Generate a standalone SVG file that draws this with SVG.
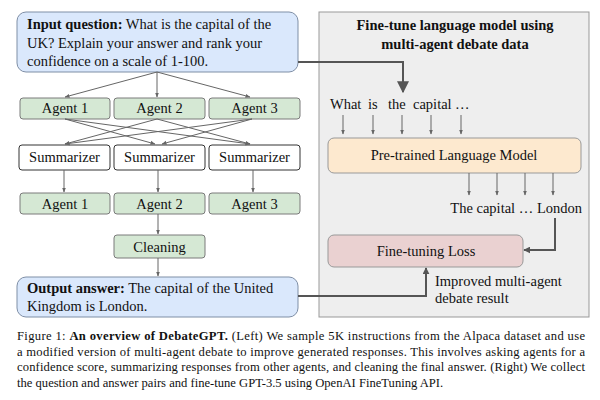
<svg xmlns="http://www.w3.org/2000/svg" width="600" height="400" viewBox="0 0 600 400">
<defs>
<marker id="ah" viewBox="0 0 10 10" refX="9" refY="5" markerWidth="5" markerHeight="5" orient="auto-start-reverse" markerUnits="userSpaceOnUse">
<path d="M0,1 L10,5 L0,9 z" fill="#666"/>
</marker>
<marker id="ahb" viewBox="0 0 10 10" refX="9" refY="5" markerWidth="12" markerHeight="12" orient="auto" markerUnits="userSpaceOnUse">
<path d="M0,0 L10,5 L0,10 z" fill="#555"/>
</marker>
<marker id="ahm" viewBox="0 0 10 10" refX="9" refY="5" markerWidth="7" markerHeight="7" orient="auto" markerUnits="userSpaceOnUse">
<path d="M0,0 L10,5 L0,10 z" fill="#555"/>
</marker>
</defs>
<style>
text{font-family:"Liberation Serif","Times New Roman",serif;fill:#111}
.t{font-size:14.5px}
.c{text-anchor:middle;font-size:14.5px}
.b{font-weight:bold}
.cap{font-size:12.6px}
.q{fill:#dae8fc;stroke:#7f8fa6;stroke-width:1}
.ag{fill:#d5e8d4;stroke:#7a7a7a;stroke-width:1}
.sm{fill:#fff;stroke:#333;stroke-width:1}
.ln{stroke:#666;stroke-width:1;fill:none;marker-end:url(#ah)}
.big{stroke:#555;stroke-width:2;fill:none}
</style>
<rect width="600" height="400" fill="#fff"/>

<g id="panel">
<rect x="319" y="12" width="270" height="305" fill="#eeeeee" stroke="#999" stroke-width="1"/>
<text class="c b" x="455" y="30">Fine-tune language model using</text>
<text class="c b" x="455" y="49">multi-agent debate data</text>
</g>

<g id="input">
<rect class="q" x="17" y="12" width="281" height="60" rx="9"/>
<text class="t" x="27" y="29"><tspan class="b">Input question:</tspan> What is the capital of the</text>
<text class="t" x="27" y="48">UK? Explain your answer and rank your</text>
<text class="t" x="27" y="66">confidence on a scale of 1-100.</text>
</g>

<g id="agent1a"><rect class="ag" x="20" y="98" width="90" height="21" rx="3"/><text class="c" x="65" y="113">Agent 1</text></g>
<g id="agent2a"><rect class="ag" x="114" y="98" width="91" height="21" rx="3"/><text class="c" x="159.5" y="113">Agent 2</text></g>
<g id="agent3a"><rect class="ag" x="209" y="98" width="91" height="21" rx="3"/><text class="c" x="254.5" y="113">Agent 3</text></g>

<g id="summ1"><rect class="sm" x="19" y="145" width="91" height="25" rx="3"/><text class="c" x="64.5" y="162">Summarizer</text></g>
<g id="summ2"><rect class="sm" x="114" y="145" width="91" height="25" rx="3"/><text class="c" x="159.5" y="162">Summarizer</text></g>
<g id="summ3"><rect class="sm" x="209" y="145" width="91" height="25" rx="3"/><text class="c" x="254.5" y="162">Summarizer</text></g>

<g id="agent1b"><rect class="ag" x="20" y="193" width="90" height="21" rx="3"/><text class="c" x="65" y="208.5">Agent 1</text></g>
<g id="agent2b"><rect class="ag" x="114" y="193" width="91" height="21" rx="3"/><text class="c" x="159.5" y="208.5">Agent 2</text></g>
<g id="agent3b"><rect class="ag" x="209" y="193" width="91" height="21" rx="3"/><text class="c" x="254.5" y="208.5">Agent 3</text></g>

<g id="cleaning"><rect class="ag" x="114" y="235" width="91" height="23" rx="3"/><text class="c" x="159.5" y="251.5">Cleaning</text></g>

<g id="output">
<rect class="q" x="17" y="277" width="281" height="40" rx="9"/>
<text class="t" x="27" y="293"><tspan class="b">Output answer:</tspan> The capital of the United</text>
<text class="t" x="27" y="311">Kingdom is London.</text>
</g>

<g id="tokens">
<text class="t" x="330" y="109">What</text>
<text class="t" x="368" y="109">is</text>
<text class="t" x="388" y="109">the</text>
<text class="t" x="413" y="109">capital</text>
<text class="t" x="455" y="109">…</text>
</g>

<g id="plm"><rect x="328" y="138" width="253" height="35" rx="6" fill="#fde9cf" stroke="#999" stroke-width="1"/><text class="c" x="454" y="160">Pre-trained Language Model</text></g>

<g id="outtokens"><text class="t" x="582" y="213" text-anchor="end">The capital … London</text></g>

<g id="loss"><rect x="328" y="235" width="195" height="32" rx="6" fill="#ead1d1" stroke="#999" stroke-width="1"/><text class="c" x="426" y="256">Fine-tuning Loss</text></g>

<g id="improved">
<text class="t" x="435" y="286">Improved multi-agent</text>
<text class="t" x="435" y="303">debate result</text>
</g>

<g id="connectors">
<line class="ln" x1="157" y1="72" x2="65" y2="97"/>
<line class="ln" x1="157" y1="72" x2="157" y2="97"/>
<line class="ln" x1="157" y1="72" x2="250" y2="97"/>

<line class="ln" x1="65" y1="119" x2="155" y2="144"/>
<line class="ln" x1="65" y1="119" x2="250" y2="144"/>
<line class="ln" x1="157" y1="119" x2="65" y2="144"/>
<line class="ln" x1="157" y1="119" x2="250" y2="144"/>
<line class="ln" x1="252" y1="119" x2="65" y2="144"/>
<line class="ln" x1="252" y1="119" x2="162" y2="144"/>

<line class="ln" x1="64" y1="170" x2="64" y2="192"/>
<line class="ln" x1="158" y1="170" x2="158" y2="192"/>
<line class="ln" x1="253" y1="170" x2="253" y2="192"/>

<line class="ln" x1="158" y1="214" x2="158" y2="234"/>
<line class="ln" x1="158" y1="258" x2="158" y2="276"/>

<line class="ln" x1="343" y1="115" x2="343" y2="134"/>
<line class="ln" x1="373" y1="115" x2="373" y2="134"/>
<line class="ln" x1="402" y1="115" x2="402" y2="134"/>
<line class="ln" x1="431" y1="115" x2="431" y2="134"/>
<line class="ln" x1="461" y1="115" x2="461" y2="134"/>

<line class="ln" x1="469" y1="173" x2="469" y2="195"/>
<line class="ln" x1="497" y1="173" x2="497" y2="195"/>
<line class="ln" x1="525" y1="173" x2="525" y2="195"/>
<line class="ln" x1="553" y1="173" x2="553" y2="195"/>

<path class="big" d="M298,62 H403 V92" marker-end="url(#ahb)"/>
<path class="big" d="M555,218 V250 H524" marker-end="url(#ahm)"/>
<path class="big" d="M298,296 H426 V268" marker-end="url(#ahm)"/>
</g>

<g id="caption">
<text class="cap" x="17" y="340" textLength="568" lengthAdjust="spacing">Figure 1:  <tspan class="b">An overview of DebateGPT.</tspan> (Left) We sample 5K instructions from the Alpaca dataset and use</text>
<text class="cap" x="17" y="355.5" textLength="568" lengthAdjust="spacing">a modified version of multi-agent debate to improve generated responses.  This involves asking agents for a</text>
<text class="cap" x="17" y="371" textLength="568" lengthAdjust="spacing">confidence score, summarizing responses from other agents, and cleaning the final answer. (Right) We collect</text>
<text class="cap" x="17" y="386.5">the question and answer pairs and fine-tune GPT-3.5 using OpenAI FineTuning API.</text>
</g>
</svg>
